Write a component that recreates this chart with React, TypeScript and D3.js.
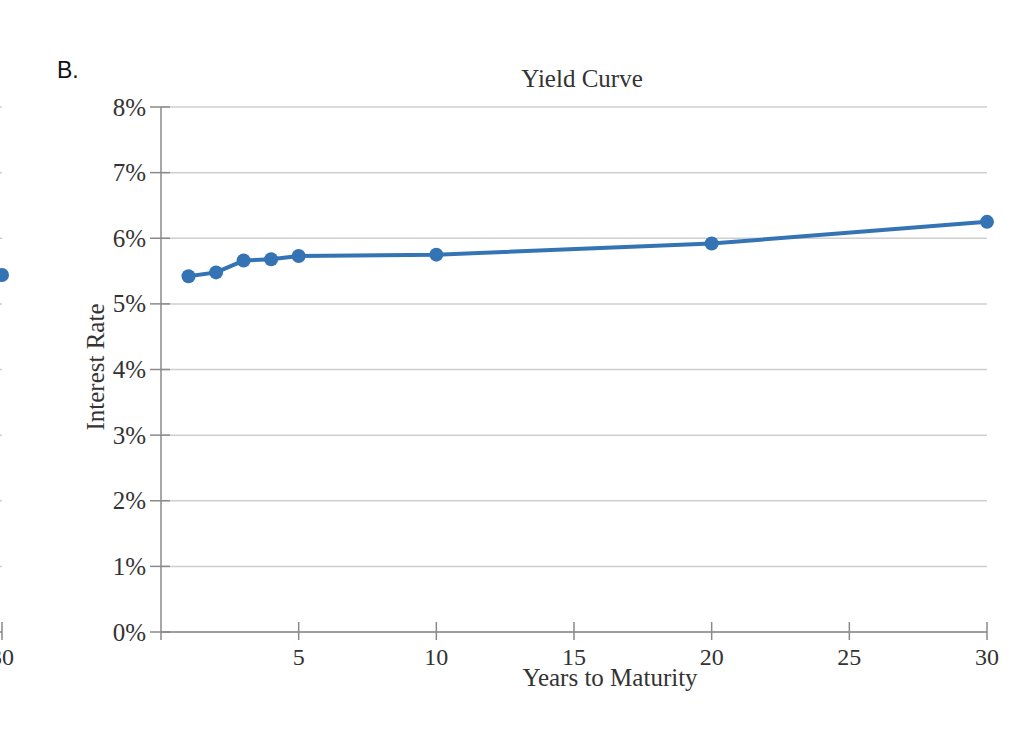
import React from "react";
import * as d3 from "d3";

const years = [1, 2, 3, 4, 5, 10, 20, 30];
const rates = [5.42, 5.48, 5.66, 5.68, 5.73, 5.75, 5.92, 6.25];
const yTicks = [0, 1, 2, 3, 4, 5, 6, 7, 8];
const xTicks = [5, 10, 15, 20, 25, 30];
// the clipped neighbouring chart (panel A) at the left edge
const prevYears = [30];
const prevRates = [5.44];
const prevXTicks = [30];

const W = 1032;
const H = 730;
const FONT = "'Liberation Serif', 'Times New Roman', serif";
const BLUE = "#3474b4";
const GRID = "#cfcfcf";
const AXIS = "#8a8a8a";
const TEXT = "#333";

export default function App() {
  const x = d3.scaleLinear().domain([0, 30]).range([161, 987]);
  const y = d3.scaleLinear().domain([0, 8]).range([632, 107]);
  const xPrev = d3.scaleLinear().domain([0, 30]).range([-824, 2]);

  const line = d3
    .line<number>()
    .x((_, i) => x(years[i]))
    .y((d) => y(d));

  return (
    <svg
      width={W}
      height={H}
      style={{ position: "absolute", left: 0, top: 0, background: "#fff" }}
      fontFamily={FONT}
    >
      <rect width={W} height={H} fill="#fff" />
      {/* Panel A remnants */}
      <g>
        {yTicks.map((t) => (
          <line key={"pg" + t} x1={xPrev(0)} x2={xPrev(30)} y1={y(t)} y2={y(t)} stroke={GRID} strokeWidth={1.5} />
        ))}
        <line x1={xPrev(0)} x2={xPrev(30)} y1={y(0)} y2={y(0)} stroke={AXIS} strokeWidth={1.5} />
        {prevXTicks.map((t) => (
          <g key={"px" + t}>
            <line x1={xPrev(t)} x2={xPrev(t)} y1={y(0) - 10} y2={y(0) + 8} stroke={AXIS} strokeWidth={1.5} />
            <text x={xPrev(t)} y={665} textAnchor="middle" fontSize={24} fill={TEXT}>
              {t}
            </text>
          </g>
        ))}
        {prevRates.map((r, i) => (
          <circle key={"pc" + i} cx={xPrev(prevYears[i])} cy={y(r)} r={7} fill={BLUE} />
        ))}
      </g>

      <text x={57} y={78} fontFamily="'Liberation Sans', Arial, sans-serif" fontSize={23} fill="#111">
        B.
      </text>

      <text x={582} y={87} textAnchor="middle" fontSize={25} fill={TEXT}>
        Yield Curve
      </text>

      {/* gridlines */}
      {yTicks.map((t) => (
        <line key={"g" + t} x1={x(0)} x2={x(30)} y1={y(t)} y2={y(t)} stroke={GRID} strokeWidth={1.5} />
      ))}

      {/* y axis */}
      <line x1={x(0)} x2={x(0)} y1={y(8)} y2={y(0) + 8} stroke={AXIS} strokeWidth={1.5} />
      {yTicks.map((t) => (
        <g key={"yt" + t}>
          <line x1={x(0) - 11} x2={x(0) + 9} y1={y(t)} y2={y(t)} stroke={AXIS} strokeWidth={1.5} />
          <text x={146} y={y(t)} dy="0.34em" textAnchor="end" fontSize={25} fill={TEXT}>
            {t + "%"}
          </text>
        </g>
      ))}
      <text
        transform={`translate(104, 367) rotate(-90)`}
        textAnchor="middle"
        fontSize={25}
        fill={TEXT}
      >
        Interest Rate
      </text>

      {/* x axis */}
      <line x1={x(0)} x2={x(30)} y1={y(0)} y2={y(0)} stroke={AXIS} strokeWidth={1.5} />
      {xTicks.map((t) => (
        <g key={"xt" + t}>
          <line x1={x(t)} x2={x(t)} y1={y(0) - 10} y2={y(0) + 8} stroke={AXIS} strokeWidth={1.5} />
          <text x={x(t)} y={665} textAnchor="middle" fontSize={24} fill={TEXT}>
            {t}
          </text>
        </g>
      ))}
      <text x={610} y={686} textAnchor="middle" fontSize={25} fill={TEXT}>
        Years to Maturity
      </text>

      {/* series */}
      <path d={line(rates) || ""} fill="none" stroke={BLUE} strokeWidth={4} strokeLinejoin="round" />
      {rates.map((r, i) => (
        <circle key={"c" + i} cx={x(years[i])} cy={y(r)} r={7} fill={BLUE} />
      ))}
    </svg>
  );
}
